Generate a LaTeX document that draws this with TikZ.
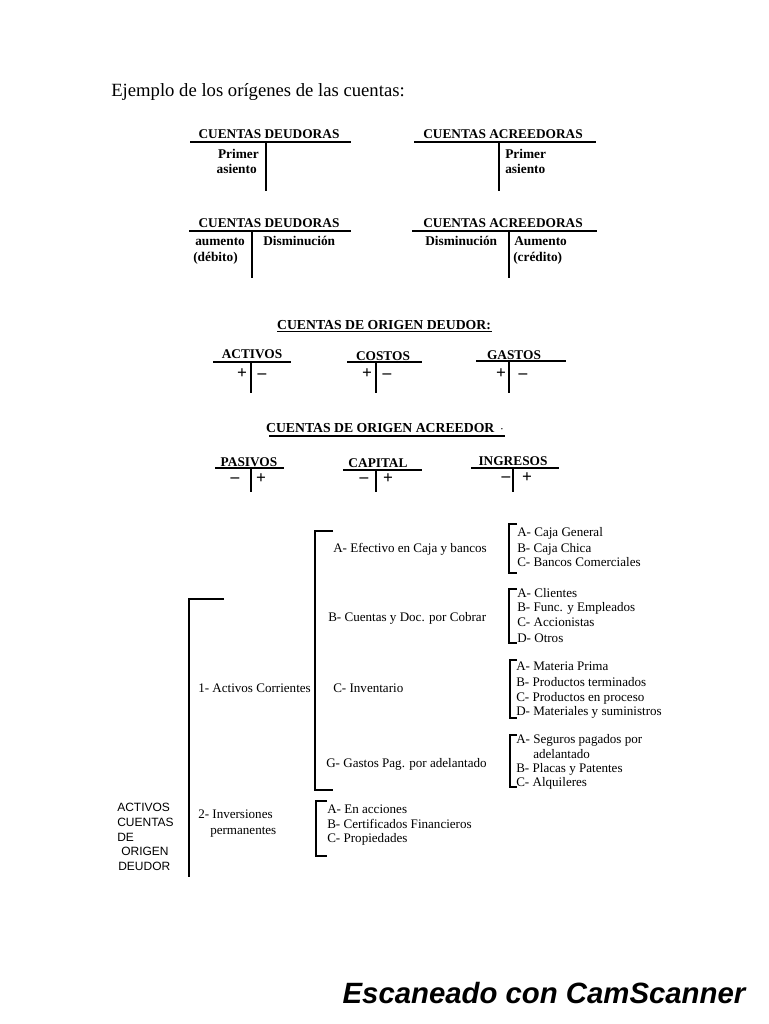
\documentclass[tikz,border=0pt]{standalone}
\usepackage{fontspec}
\setmainfont{Liberation Serif}
\newfontfamily\palo{Liberation Sans}
\tikzset{
	cuenta/.style = {font = \bfseries\fontsize{10}{12}\selectfont, inner sep = 0pt, anchor = base},
	signo/.style = {font = \bfseries\fontsize{13}{14}\selectfont, inner sep = 0pt, anchor = base},
	rubro/.style = {font = \fontsize{9.8}{11}\selectfont, inner sep = 0pt, anchor = base west},
	origen/.style = {font = \palo\fontsize{9}{11}\selectfont, inner sep = 0pt, anchor = base west},
	tlinea/.style = {line width = 1.3pt},
	llave/.style = {line width = 1pt}
}
\begin{document}
\begin{tikzpicture} [x = 0.75pt, y = -0.75pt]
	\fill [white] (0,0) rectangle (768,1024);
	\useasboundingbox (0,0) rectangle (768,1024);
	\node [anchor = base, inner sep = 0pt] (titulo) at (258,96) {\fontsize{14}{16}\selectfont Ejemplo de los or\'igenes de las cuentas:};
	% cuentas en T de arriba
	\node [cuenta] (deu1) at (269,138) {CUENTAS DEUDORAS};
	\draw [tlinea] (190,142) -- (351,142);
	\draw [tlinea] (266,142) -- (266,191);
	\node [cuenta, anchor = base east] (pri1) at (259,158) {Primer};
	\node [cuenta, anchor = base east] (asi1) at (257,173) {asiento};
	\node [cuenta] (acr1) at (503,138) {CUENTAS ACREEDORAS};
	\draw [tlinea] (414,142) -- (596,142);
	\draw [tlinea] (499,142) -- (499,191);
	\node [cuenta, anchor = base west] (pri2) at (505,158) {Primer};
	\node [cuenta, anchor = base west] (asi2) at (505,173) {asiento};
	\node [cuenta] (deu2) at (269,227) {CUENTAS DEUDORAS};
	\draw [tlinea] (189,231) -- (351,231);
	\draw [tlinea] (252,231) -- (252,278);
	\node [cuenta, anchor = base west] (aum1) at (195,245) {aumento};
	\node [cuenta, anchor = base west] (deb) at (193,261) {(d\'ebito)};
	\node [cuenta, anchor = base west] (dis1) at (263,245) {Disminuci\'on};
	\node [cuenta] (acr2) at (503,227) {CUENTAS ACREEDORAS};
	\draw [tlinea] (412,231) -- (597,231);
	\draw [tlinea] (509,231) -- (509,278);
	\node [cuenta, anchor = base west] (dis2) at (425,245) {Disminuci\'on};
	\node [cuenta, anchor = base west] (aum2) at (514,245) {Aumento};
	\node [cuenta, anchor = base west] (cre) at (513,261) {(cr\'edito)};
	% origen deudor
	\node [cuenta, font = \bfseries\fontsize{10.3}{12}\selectfont] (odeu) at (384,329) {CUENTAS DE ORIGEN DEUDOR:};
	\draw [line width = 0.9pt] (277,331.5) -- (492,331.5);
	\node [cuenta] (act) at (252,358) {ACTIVOS};
	\draw [tlinea] (213,362) -- (291,362);
	\draw [tlinea] (251,362) -- (251,393);
	\node [signo] at (242,378) {+};
	\node [signo] at (262,378) {--};
	\node [cuenta] (cos) at (383,360) {COSTOS};
	\draw [tlinea] (347,362) -- (422,362);
	\draw [tlinea] (376,362) -- (376,393);
	\node [signo] at (367,378) {+};
	\node [signo] at (387,378) {--};
	\node [cuenta] (gas) at (514,359) {GASTOS};
	\draw [tlinea] (476,361) -- (566,361);
	\draw [tlinea] (509,361) -- (509,393);
	\node [signo] at (501,378) {+};
	\node [signo] at (523,378) {--};
	% origen acreedor
	\node [cuenta, font = \bfseries\fontsize{10.3}{12}\selectfont] (oacr) at (385,432) {CUENTAS DE ORIGEN ACREEDOR \,$\cdot$};
	\draw [line width = 0.9pt] (269,436) -- (505,436);
	\node [cuenta] (pas) at (249,466) {PASIVOS};
	\draw [tlinea] (215,468) -- (284,468);
	\draw [tlinea] (251,468) -- (251,492);
	\node [signo] at (235,482) {--};
	\node [signo] at (261,483) {+};
	\node [cuenta] (cap) at (378,467) {CAPITAL};
	\draw [tlinea] (343,470) -- (422,470);
	\draw [tlinea] (376,470) -- (376,492);
	\node [signo] at (364,482) {--};
	\node [signo] at (388,483) {+};
	\node [cuenta] (ing) at (513,465) {INGRESOS};
	\draw [tlinea] (471,468) -- (559,468);
	\draw [tlinea] (513,468) -- (513,492);
	\node [signo] at (506,481) {--};
	\node [signo] at (527,482) {+};
	% activos
	\draw [llave] (224,599) -- (189,599) -- (189,877);
	\node [origen] (acd1) at (117,811) {ACTIVOS};
	\node [origen] (acd2) at (117,826) {CUENTAS};
	\node [origen] (acd3) at (117,841) {DE};
	\node [origen] (acd4) at (121,855) {ORIGEN};
	\node [origen] (acd5) at (118,870) {DEUDOR};
	\node [rubro] (corr) at (198,692) {1- Activos Corrientes};
	\node [rubro] (inv1) at (198,818) {2- Inversiones};
	\node [rubro] (inv2) at (210,834) {permanentes};
	\draw [llave] (333,531) -- (315,531) -- (315,790) -- (333,790);
	\node [rubro] (efe) at (333,552) {A- Efectivo en Caja y bancos};
	\node [rubro] (cxc) at (328,621) {B- Cuentas y Doc. por Cobrar};
	\node [rubro] (inve) at (333,692) {C- Inventario};
	\node [rubro] (gpa) at (326,767) {G- Gastos Pag. por adelantado};
	\draw [llave] (327,801) -- (316,801) -- (316,856) -- (327,856);
	\node [rubro] (ia) at (327,813) {A- En acciones};
	\node [rubro] (ib) at (327,828) {B- Certificados Financieros};
	\node [rubro] (ic) at (327,842) {C- Propiedades};
	\draw [llave] (517,524) -- (509,524) -- (509,573) -- (517,573);
	\node [rubro] (ea) at (517,536) {A- Caja General};
	\node [rubro] (eb) at (517,552) {B- Caja Chica};
	\node [rubro] (ec) at (517,566) {C- Bancos Comerciales};
	\draw [llave] (517,589) -- (509,589) -- (509,643) -- (517,643);
	\node [rubro] (ca) at (517,597) {A- Clientes};
	\node [rubro] (cb) at (517,611) {B- Func. y Empleados};
	\node [rubro] (cc) at (517,626) {C- Accionistas};
	\node [rubro] (cd) at (517,642) {D- Otros};
	\draw [llave] (517,660) -- (510,660) -- (510,718) -- (517,718);
	\node [rubro] (na) at (516,670) {A- Materia Prima};
	\node [rubro] (nb) at (516,686) {B- Productos terminados};
	\node [rubro] (nc) at (516,701) {C- Productos en proceso};
	\node [rubro] (nd) at (516,715) {D- Materiales y suministros};
	\draw [llave] (517,735) -- (510,735) -- (510,787) -- (517,787);
	\node [rubro] (ga) at (516,743) {A- Seguros pagados por};
	\node [rubro] (ga2) at (533,758) {adelantado};
	\node [rubro] (gb) at (516,772) {B- Placas y Patentes};
	\node [rubro] (gc) at (516,786) {C- Alquileres};
	% pie
	\node [font = \palo\bfseries\itshape\fontsize{22}{24}\selectfont] (pie) at (544,993) {Escaneado con CamScanner};
\end{tikzpicture}
\end{document}
